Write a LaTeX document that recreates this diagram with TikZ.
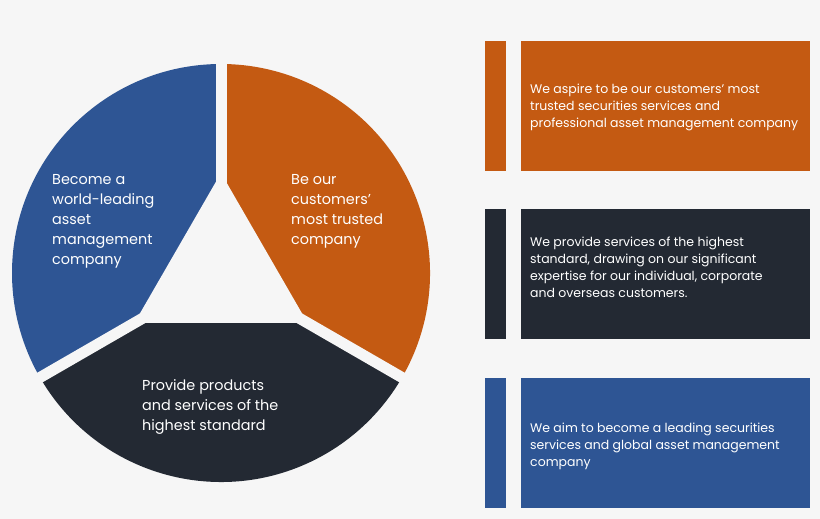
\documentclass[tikz,border=0pt]{standalone}
\usepackage{fontspec}
\setmainfont{Poppins}
\usetikzlibrary{calc}
\definecolor{bgc}{RGB}{246,246,246}
\definecolor{orangec}{RGB}{196,90,18}
\definecolor{navyc}{RGB}{35,41,51}
\definecolor{bluec}{RGB}{46,85,148}
\begin{document}
\begin{tikzpicture}
[
x=1pt, y=1pt,
ringtext/.style={anchor=base west, align=left, inner sep=0, text=white, font=\fontsize{14.4}{20}\selectfont},
boxtext/.style={anchor=base west, align=left, inner sep=0, text=white, font=\fontsize{12.5}{17}\selectfont},
sidebar/.style={anchor=north west, minimum width=21, minimum height=130, inner sep=0},
panel/.style={anchor=north west, minimum width=289, minimum height=130, inner sep=0}
]
\useasboundingbox (0,0) rectangle (820,519);
\fill[bgc] (0,0) rectangle (820,519);

%Ring
\coordinate (c) at (221,246);
\fill[bluec]   (c) -- ++(90:209)  arc[start angle=90,  end angle=210, radius=209] -- cycle;
\fill[navyc]   (c) -- ++(210:209) arc[start angle=210, end angle=330, radius=209] -- cycle;
\fill[orangec] (c) -- ++(330:209) arc[start angle=330, end angle=450, radius=209] -- cycle;
\coordinate (t1) at ($(c)+(90:100)$);
\coordinate (t2) at ($(c)+(210:100)$);
\coordinate (t3) at ($(c)+(330:100)$);
\fill[bgc] (t1) -- (t2) -- (t3) -- cycle;
\foreach \a in {90,210,330}
  \draw[bgc, line width=11] (c) ++(\a:90) -- ++(\a:130);

%Ring labels (placed at the baseline of their last line)
\node[ringtext] (world) at (52,254)  {Become a\\world-leading\\asset\\management\\company};
\node[ringtext] (trust) at (291,274) {Be our\\customers’\\most trusted\\company};
\node[ringtext] (prov)  at (142,88)  {Provide products\\and services of the\\highest standard};

%Boxes
\node[sidebar, fill=orangec] (s1) at (485,478) {};
\node[panel,   fill=orangec] (p1) at (521,478) {};
\node[sidebar, fill=navyc]   (s2) at (485,310) {};
\node[panel,   fill=navyc]   (p2) at (521,310) {};
\node[sidebar, fill=bluec]   (s3) at (485,141) {};
\node[panel,   fill=bluec]   (p3) at (521,141) {};

\node[boxtext] (d1) at (530,391) {We aspire to be our customers’ most\\trusted securities services and\\professional asset management company};
\node[boxtext] (d2) at (530,221) {We provide services of the highest\\standard, drawing on our significant\\expertise for our individual, corporate\\and overseas customers.};
\node[boxtext] (d3) at (530,52)  {We aim to become a leading securities\\services and global asset management\\company};

\end{tikzpicture}
\end{document}
